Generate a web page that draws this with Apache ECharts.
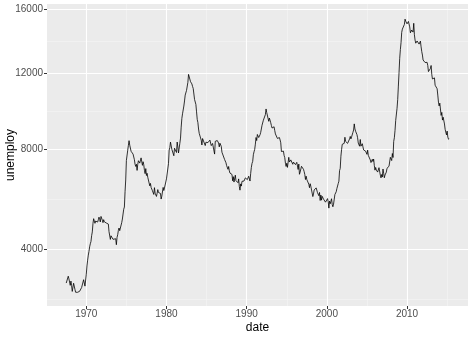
<!DOCTYPE html>
<html>
<head>
<meta charset="utf-8">
<script src="https://cdn.jsdelivr.net/npm/echarts@6/dist/echarts.min.js"></script>
<style>
html,body{margin:0;padding:0;background:#fff;}
#c{width:474px;height:338px;}
</style>
</head>
<body>
<div id="c"></div>
<script>
// Monthly series starting July 1967
var startYear = 1967;
var startMonth = 7;
var unemploy = [
2944,2945,2958,3143,3066,3018,
2878,3001,2877,2709,2740,2938,2883,2768,2686,2689,2715,2685,
2718,2692,2712,2758,2713,2816,2868,2856,3040,3049,2856,2884,
3201,3453,3635,3797,3919,4071,4175,4256,4456,4591,4898,5076,
4986,4903,4987,4959,4996,4949,5035,5134,5042,4954,5161,5154,
5019,4928,5038,4959,4922,4923,4913,4939,4849,4875,4602,4543,
4326,4452,4394,4459,4329,4363,4305,4305,4350,4144,4396,4489,
4644,4731,4634,4618,4705,4927,5063,5022,5437,5523,6140,6636,
7501,7520,7978,8210,8433,8220,8127,7928,7923,7897,7794,7744,
7534,7326,7230,7330,7053,7322,7490,7518,7380,7430,7620,7545,
7280,7443,7307,7059,6911,7134,6829,6925,6751,6763,6815,6386,
6489,6318,6337,6180,6127,6028,6309,6080,6125,5947,6077,6228,
6109,6173,6109,6069,5840,5959,5996,6320,6190,6296,6238,6325,
6683,6702,6729,7358,7984,8098,8363,8281,8021,8088,8023,7718,
8071,8051,7982,7869,8366,8131,7848,7911,8310,8559,9102,9543,
9785,9882,10195,10468,10786,10765,11046,11127,11491,11950,12051,12058,
11534,11545,11408,11268,11154,11246,10548,10623,10282,9887,9499,9331,
9008,8791,8746,8762,8456,8226,8537,8519,8367,8381,8198,8358,
8423,8321,8339,8395,8302,8460,8513,8196,8248,8298,8128,8138,
7795,8402,8383,8364,8439,8508,8319,8135,8310,8243,8159,7883,
7892,7865,7862,7542,7574,7398,7268,7261,7102,7227,7035,6936,
6953,6929,6876,6601,6779,6546,6605,6843,6604,6568,6537,6518,
6682,6359,6205,6468,6375,6577,6495,6511,6590,6630,6725,6667,
6752,6651,6598,6797,6742,6590,6922,7188,7368,7459,7764,7901,
8015,8265,8586,8439,8736,8692,8586,8666,8722,8842,8931,9198,
9283,9454,9460,9415,9744,10040,9850,9787,9781,9398,9565,9557,
9325,9183,9056,9110,9149,9121,8930,8763,8714,8750,8542,8477,
8630,8583,8470,8331,7915,7927,7946,7933,7734,7632,7375,7230,
7375,7187,7153,7645,7430,7427,7527,7484,7478,7328,7426,7423,
7491,7313,7318,7415,7423,7095,7337,6882,6979,7031,7236,7253,
7158,7102,7000,6873,6655,6799,6655,6608,6656,6454,6308,6476,
6368,6306,6422,5941,6047,6212,6259,6179,6300,6280,6100,6032,
5976,6111,5783,6004,5796,5951,6025,5838,5915,5778,5716,5653,
5708,5858,5733,5481,5758,5651,5747,5853,5625,5534,5639,5634,
6023,6089,6141,6271,6226,6484,6583,7042,7142,7694,8003,8258,
8182,8215,8304,8599,8399,8393,8390,8304,8251,8307,8520,8640,
8520,8618,8588,8842,8957,9266,9011,8896,8921,8732,8576,8317,
8370,8167,8491,8170,8212,8286,8136,7990,7927,8061,7932,7934,
7784,7980,7737,7672,7651,7524,7406,7345,7553,7453,7566,7279,
7064,7184,7072,7120,6980,7001,7175,7091,6847,6727,6872,6762,
7116,6927,6731,6850,6766,6979,7149,7067,7170,7237,7240,7645,
7685,7497,7822,7637,8395,8575,8937,9438,9494,10074,10538,11286,
12058,12898,13426,13853,14499,14707,14601,14814,15009,15352,15219,15098,
15046,15113,15202,15325,14849,14474,14512,14648,14579,14516,15081,14348,
14013,13820,13737,13957,13855,13962,13763,13818,13948,13594,13302,13093,
12797,12813,12713,12646,12660,12692,12656,12471,12115,12124,12005,12298,
12471,11950,11689,11760,11654,11751,11335,11279,11270,11136,10787,10404,
10202,10349,10380,9702,9859,9460,9608,9599,9262,8990,9090,8717,
8903,8610,8504,8526
];
var yTicks = [4000, 8000, 12000, 16000];
var yMinorSqrt = [50.1, 76.3, 99.5, 118.0];
var xTicks = [1970, 1980, 1990, 2000, 2010];
var xMinor = [1975, 1985, 1995, 2005, 2015];

var seriesData = unemploy.map(function (v, i) {
  var m = startMonth - 1 + i;
  var x = startYear + Math.floor(m / 12) + (m % 12) / 12;
  return [x, Math.sqrt(v)];
});

var gridLines = [];
xMinor.forEach(function (v) { gridLines.push({xAxis: v, lineStyle: {color: '#f5f5f5', width: 0.6, type: 'solid'}}); });
yMinorSqrt.forEach(function (v) { gridLines.push({yAxis: v, lineStyle: {color: '#f5f5f5', width: 0.6, type: 'solid'}}); });
xTicks.forEach(function (v) { gridLines.push({xAxis: v, lineStyle: {color: '#ffffff', width: 1.1, type: 'solid'}}); });
yTicks.forEach(function (v) { gridLines.push({yAxis: Math.sqrt(v), lineStyle: {color: '#ffffff', width: 1.1, type: 'solid'}}); });

var chart = echarts.init(document.getElementById('c'), null, {renderer: 'canvas'});
chart.setOption({
  animation: false,
  backgroundColor: '#ffffff',
  grid: {left: 47, right: 6, top: 4, bottom: 32, show: true, backgroundColor: '#EBEBEB', borderWidth: 0, containLabel: false, outerBoundsMode: 'none'},
  xAxis: {
    type: 'value', min: 1965.1, max: 2017.6,
    name: 'date', nameLocation: 'middle', nameGap: 16, nameMoveOverlap: false,
    nameTextStyle: {color: '#000', fontSize: 12, fontFamily: 'Liberation Sans, Arial, sans-serif'},
    axisLine: {show: false},
    splitLine: {show: false},
    axisTick: {show: true, length: 3, lineStyle: {color: '#333'}, customValues: xTicks},
    axisLabel: {show: true, margin: 3, color: '#4d4d4d', fontSize: 10, fontFamily: 'Liberation Sans, Arial, sans-serif', customValues: xTicks, formatter: function (v) { return String(Math.round(v)); }}
  },
  yAxis: {
    type: 'value', min: 48.2, max: 127.9,
    name: 'unemploy', nameLocation: 'middle', nameGap: 30, nameMoveOverlap: false,
    nameTextStyle: {color: '#000', fontSize: 12, fontFamily: 'Liberation Sans, Arial, sans-serif'},
    axisLine: {show: false},
    splitLine: {show: false},
    axisTick: {show: true, length: 3, lineStyle: {color: '#333'}, customValues: yTicks.map(Math.sqrt)},
    axisLabel: {show: true, margin: 4, color: '#4d4d4d', fontSize: 10, fontFamily: 'Liberation Sans, Arial, sans-serif', customValues: yTicks.map(Math.sqrt), formatter: function (v) { return String(Math.round(v * v)); }}
  },
  series: [
    {
      type: 'line', data: seriesData, showSymbol: false, z: 1, silent: true,
      lineStyle: {opacity: 0},
      markLine: {silent: true, symbol: ['none', 'none'], label: {show: false}, animation: false, data: gridLines}
    },
    {
      type: 'line', data: seriesData, showSymbol: false, z: 5,
      lineStyle: {color: '#000000', width: 0.8}
    }
  ]
});
</script>
</body>
</html>
